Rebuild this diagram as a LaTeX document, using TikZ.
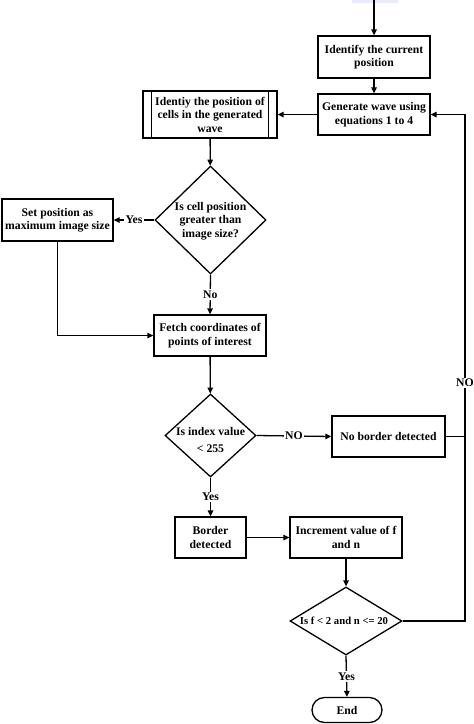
\documentclass[tikz,border=0pt]{standalone}
\usepackage{fontspec}
\setmainfont{Liberation Serif}
\usetikzlibrary{shapes.geometric,arrows.meta}
\begin{document}
\begin{tikzpicture}[x=1pt,y=-1pt,
  every node/.style={font=\bfseries\fontsize{11.7}{13.5}\selectfont},
  box/.style={draw, line width=1.3pt, rectangle, align=center, inner sep=0pt, minimum height=41pt},
  dia/.style={draw, diamond, line width=1.3pt, inner sep=0pt},
  arr/.style={line width=1.3pt, -{Triangle[length=6pt,width=5.5pt]}},
  ln/.style={line width=1.3pt},
  lbl/.style={fill=white, inner sep=1.5pt}]
\useasboundingbox (0,0) rectangle (474,724);
\fill[blue!8] (352,0) rectangle (398,3);
\coordinate (top) at (374,0);
\node[box, minimum width=112pt, minimum height=42pt] (b1) at (374,57) {Identify the current\\position};
\node[box, minimum width=112pt] (b2) at (374,114.5) {Generate wave using\\equations 1 to 4};
\node[box, minimum width=134pt, minimum height=47pt] (b3) at (210,114.5) {Identiy the position of\\cells in the generated\\wave};
\draw[ln] ([xshift=9pt]b3.north west) -- ([xshift=9pt]b3.south west);
\draw[ln] ([xshift=-9pt]b3.north east) -- ([xshift=-9pt]b3.south east);
\node[dia, minimum width=111pt, minimum height=108pt] (d1) at (210.5,220) {};
\node[align=center] (d1t) at (210.5,221) {Is cell position\\greater than\\image size?};
\node[box, minimum width=111pt, minimum height=42pt] (sp) at (57.5,220) {Set position as\\maximum image size};
\node[box, minimum width=112pt] (fe) at (210,335.5) {Fetch coordinates of\\points of interest};
\node[dia, minimum width=91pt, minimum height=83pt] (d2) at (210.5,435.5) {};
\node[align=center] (d2t) at (210.5,439.5) {Is index value\\[3.5pt]< 255};
\node[box, minimum width=113pt] (nb) at (388.5,436.5) {No border detected};
\node[box, minimum width=71pt] (bd) at (210.5,537.5) {Border\\detected};
\node[box, minimum width=112pt] (inc) at (346,537.5) {Increment value of f\\and n};
\node[dia, minimum width=112pt, minimum height=68pt] (d3) at (346,621) {};
\node[font=\bfseries\fontsize{10.7}{12}\selectfont] (d3t) at (344,621) {Is f < 2 and n <= 20};
\node[draw, line width=1.3pt, rounded corners=12.5pt, minimum width=70pt, minimum height=25pt, inner sep=0pt] (end) at (347,710) {End};
\coordinate (r1) at (465,621);
\coordinate (r2) at (465,114.5);
\coordinate (j) at (465,436.5);
\draw[arr] (top) -- (b1);
\draw[arr] (b1) -- (b2);
\draw[arr] (b2) -- (b3);
\draw[arr] (b3) -- (d1);
\draw[arr] (d1.west) -- node[lbl]{Yes} (sp.east);
\draw[arr] (d1.south) -- node[lbl]{No} (fe.north);
\draw[arr] (sp.south) |- (fe.west);
\draw[arr] (fe) -- (d2);
\draw[arr] (d2.east) -- node[lbl]{NO} (nb.west);
\draw[arr] (d2.south) -- node[lbl]{Yes} (bd.north);
\draw[arr] (bd) -- (inc);
\draw[arr] (inc) -- (d3);
\draw[arr] (d3.south) -- node[lbl]{Yes} (end.north);
\draw[arr] (d3.east) -- (r1) -- node[lbl,pos=0.47]{NO} (r2) -- (b2.east);
\draw[ln] (nb.east) -- (j);
\end{tikzpicture}
\end{document}
